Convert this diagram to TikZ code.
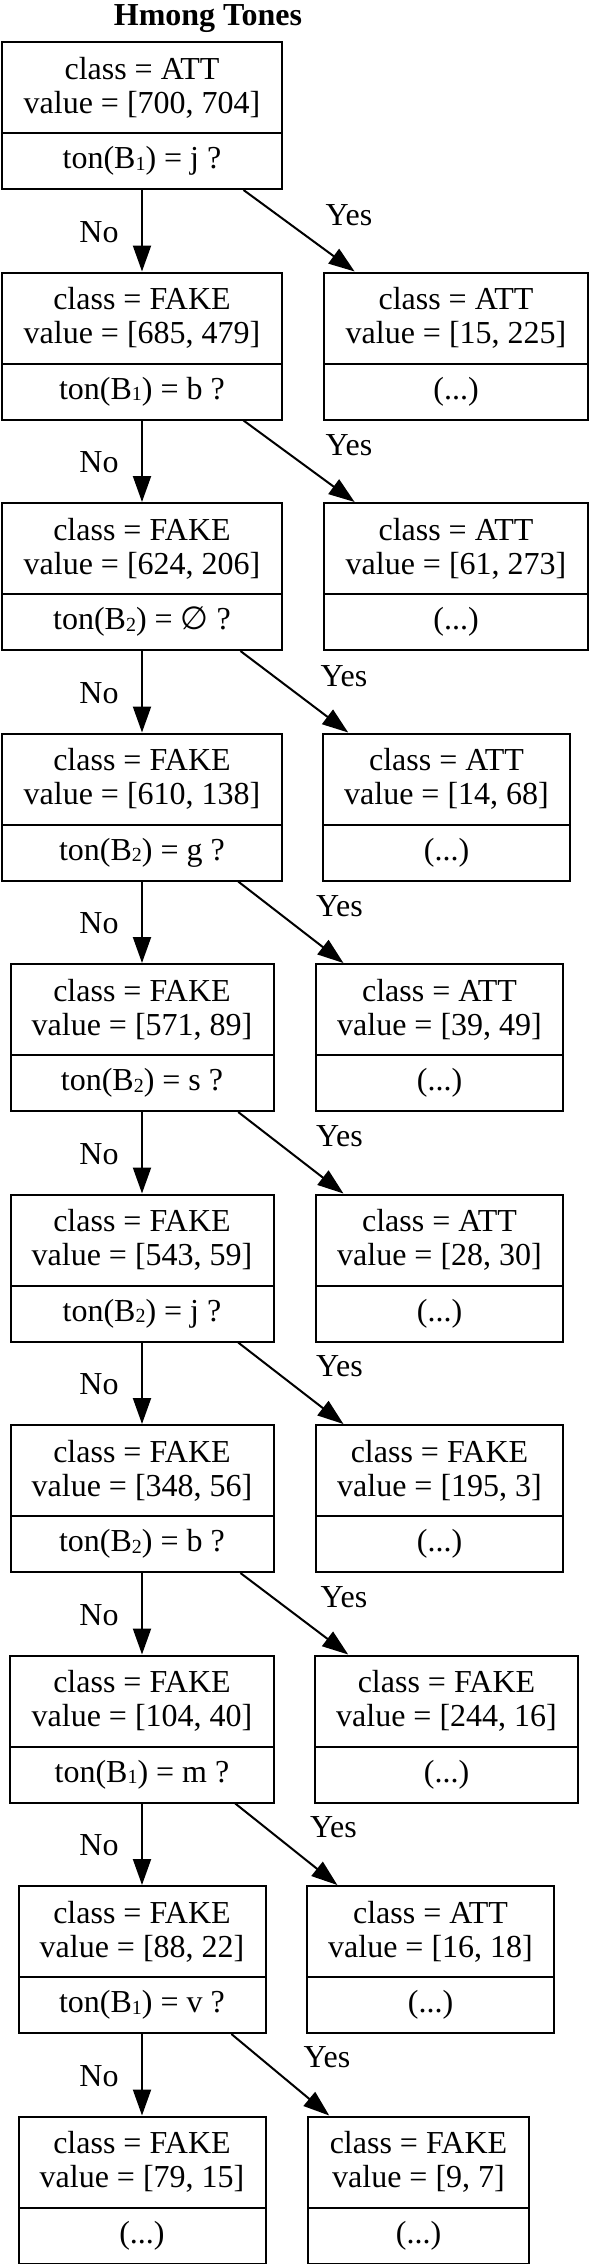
\documentclass[tikz,border=0pt]{standalone}
\usepackage{fontspec}
\setmainfont{Liberation Serif}
\newfontfamily\symfont{DejaVu Sans}
\usetikzlibrary{shapes.multipart,arrows.meta}

\newcommand{\idx}[1]{\raisebox{-0.8pt}{\fontsize{10}{10}\selectfont #1}}
\newcommand{\cell}[4]{\parbox[c][44.5pt]{#1pt}{\centering class = #2\\value = [#3]}%
\nodepart{two}\parbox[c][27pt]{#1pt}{\centering #4}}

\begin{document}
\begin{tikzpicture}[x=0.5pt,y=-0.5pt,
  tbox/.style={draw,line width=1pt,rectangle split,rectangle split parts=2,inner sep=0pt,
    font=\fontsize{16pt}{17pt}\selectfont},
  lab/.style={font=\fontsize{16pt}{17pt}\selectfont,inner sep=0pt},
  edge/.style={line width=1pt,-{Triangle[length=13pt,width=9pt]}}]
\useasboundingbox (0,0) rectangle (593,2264);
\node[font=\fontsize{16pt}{17pt}\selectfont\bfseries,anchor=base] (title) at (208,26) {Hmong Tones};
\node[tbox] (700704) at (142,115.5) {\cell{140}{ATT}{700, 704}{ton(B\idx{1}) = j ?}};
\node[tbox] (685479) at (142,346) {\cell{140}{FAKE}{685, 479}{ton(B\idx{1}) = b ?}};
\node[tbox] (15225) at (456,346) {\cell{132}{ATT}{15, 225}{(...)}};
\node[tbox] (624206) at (142,576.5) {\cell{140}{FAKE}{624, 206}{ton(B\idx{2}) = {\symfont ∅} ?}};
\node[tbox] (61273) at (456,576.5) {\cell{132}{ATT}{61, 273}{(...)}};
\node[tbox] (610138) at (142,807) {\cell{140}{FAKE}{610, 138}{ton(B\idx{2}) = g ?}};
\node[tbox] (1468) at (446.5,807) {\cell{123.5}{ATT}{14, 68}{(...)}};
\node[tbox] (57189) at (142,1037.5) {\cell{131.5}{FAKE}{571, 89}{ton(B\idx{2}) = s ?}};
\node[tbox] (3949) at (439.5,1037.5) {\cell{123.5}{ATT}{39, 49}{(...)}};
\node[tbox] (54359) at (142,1268) {\cell{131.5}{FAKE}{543, 59}{ton(B\idx{2}) = j ?}};
\node[tbox] (2830) at (439.5,1268) {\cell{123.5}{ATT}{28, 30}{(...)}};
\node[tbox] (34856) at (142,1498.5) {\cell{131.5}{FAKE}{348, 56}{ton(B\idx{2}) = b ?}};
\node[tbox] (1953) at (439.5,1498.5) {\cell{123.5}{FAKE}{195, 3}{(...)}};
\node[tbox] (10440) at (142,1729) {\cell{132}{FAKE}{104, 40}{ton(B\idx{1}) = m ?}};
\node[tbox] (24416) at (446.5,1729) {\cell{131.5}{FAKE}{244, 16}{(...)}};
\node[tbox] (8822) at (142,1959.5) {\cell{123.5}{FAKE}{88, 22}{ton(B\idx{1}) = v ?}};
\node[tbox] (1618) at (430.5,1959.5) {\cell{123.5}{ATT}{16, 18}{(...)}};
\node[tbox] (7915) at (142,2190) {\cell{123.5}{FAKE}{79, 15}{(...)}};
\node[tbox] (97) at (418.5,2190) {\cell{110.5}{FAKE}{9, 7}{(...)}};
\node[lab] (no1) at (99,232) {No};
\node[lab] (no2) at (99,462.5) {No};
\node[lab] (no3) at (99,693) {No};
\node[lab] (no4) at (99,923.5) {No};
\node[lab] (no5) at (99,1154) {No};
\node[lab] (no6) at (99,1384.5) {No};
\node[lab] (no7) at (99,1615) {No};
\node[lab] (no8) at (99,1845.5) {No};
\node[lab] (no9) at (99,2076) {No};
\node[lab] (yes1) at (349,215) {Yes};
\node[lab] (yes2) at (349,445) {Yes};
\node[lab] (yes3) at (344,676) {Yes};
\node[lab] (yes4) at (339.5,906) {Yes};
\node[lab] (yes5) at (339.5,1136) {Yes};
\node[lab] (yes6) at (339.5,1366) {Yes};
\node[lab] (yes7) at (344,1597.5) {Yes};
\node[lab] (yes8) at (333.5,1827) {Yes};
\node[lab] (yes9) at (327,2057.5) {Yes};
\draw[edge] (700704) -- (685479);
\draw[edge] (700704) -- (15225);
\draw[edge] (685479) -- (624206);
\draw[edge] (685479) -- (61273);
\draw[edge] (624206) -- (610138);
\draw[edge] (624206) -- (1468);
\draw[edge] (610138) -- (57189);
\draw[edge] (610138) -- (3949);
\draw[edge] (57189) -- (54359);
\draw[edge] (57189) -- (2830);
\draw[edge] (54359) -- (34856);
\draw[edge] (54359) -- (1953);
\draw[edge] (34856) -- (10440);
\draw[edge] (34856) -- (24416);
\draw[edge] (10440) -- (8822);
\draw[edge] (10440) -- (1618);
\draw[edge] (8822) -- (7915);
\draw[edge] (8822) -- (97);
\end{tikzpicture}
\end{document}
